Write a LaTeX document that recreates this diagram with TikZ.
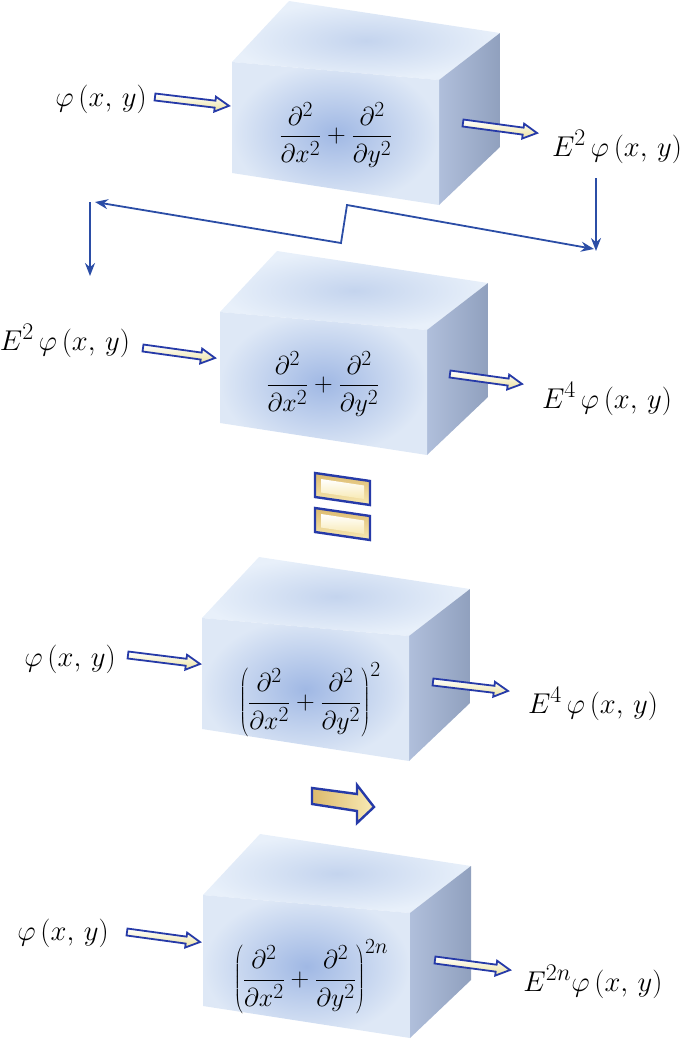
\documentclass[tikz,border=0pt]{standalone}
\usetikzlibrary{arrows.meta,calc}
\definecolor{cline}{RGB}{43,77,166}
\definecolor{aline}{RGB}{38,58,168}
\definecolor{frontin}{RGB}{160,184,228}
\definecolor{frontout}{RGB}{222,232,246}
\definecolor{topin}{RGB}{196,212,238}
\definecolor{topout}{RGB}{232,240,250}
\definecolor{sidea}{RGB}{176,191,219}
\definecolor{sideb}{RGB}{144,160,190}
\definecolor{ayel}{RGB}{236,226,160}
\definecolor{gold}{RGB}{220,186,110}
\definecolor{goldl}{RGB}{248,234,180}

\newcommand{\cube}[2]{%
 \begin{scope}[shift={(#1,#2)}]
  \shade[inner color=topin, outer color=topout] (0,0) -- (57,-61) -- (268,-29) -- (207,18) -- cycle;
  \shade[left color=sidea, right color=sideb] (207,18) -- (268,-29) -- (268,85) -- (207,143) -- cycle;
  \shade[inner color=frontin, outer color=frontout] (0,0) -- (207,18) -- (207,143) -- (0,111) -- cycle;
 \end{scope}}

\newcommand{\harrow}[4]{%
 \begin{scope}[shift={(#1,#2)}, rotate=-#3]
  \shade[top color=white, bottom color=ayel, draw=aline, line width=1.8pt, line join=miter]
   (0,-3.5) -- (#4-14,-3.5) -- (#4-14,-7.5) -- (#4,0) -- (#4-14,7.5) -- (#4-14,3.5) -- (0,3.5) -- cycle;
 \end{scope}}

\newcommand{\eqbar}[2]{%
 \begin{scope}[shift={(#1,#2)}]
  \shade[top color=gold, bottom color=goldl] (0,0) -- (55,8) -- (55,32) -- (0,24) -- cycle;
  \shade[top color=white, bottom color=goldl] (6,6) -- (49,12.5) -- (49,26) -- (6,19.5) -- cycle;
  \draw[aline, line width=2.4pt, line join=miter] (0,0) -- (55,8) -- (55,32) -- (0,24) -- cycle;
 \end{scope}}

\newcommand{\dnum}{\partial^{2}\rule[-5pt]{0pt}{5pt}}
\newcommand{\lapl}{\displaystyle\frac{\dnum}{\rule{0pt}{24pt}\partial x^{2}}+\frac{\dnum}{\rule{0pt}{24pt}\partial y^{2}}}
\newcommand{\phixy}{\varphi\left(x,\,y\right)}

\tikzset{
  lab/.style={inner sep=0pt, font=\Huge, scale=1.15},
  frm/.style={inner sep=0pt, font=\Huge, scale=1.04},
  conn/.style={draw=cline, line width=1.8pt},
  tip/.style={-{Stealth[length=13pt,width=10pt]}}
}

\begin{document}
\begin{tikzpicture}[x=1pt,y=-1pt]
\useasboundingbox (0,0) rectangle (685,1042);

% boxes
\cube{232}{62}
\cube{220}{312}
\cube{202}{618}
\cube{203}{895}

% formulas
\node[frm] (f1) at (336,135) {$\lapl$};
\node[frm] (f2) at (323,384) {$\lapl$};
\node[frm] (f3) at (310,700) {$\displaystyle\left(\lapl\right)^{2}$};
\node[frm] (f4) at (311,977) {$\displaystyle\left(\lapl\right)^{2n}$};

% labels
\node[lab] (in1) at (101,99) {$\phixy$};
\node[lab] (out1) at (617,147) {$E^{2}\,\phixy$};
\node[lab] (in2) at (65,341) {$E^{2}\,\phixy$};
\node[lab] (out2) at (607,399) {$E^{4}\,\phixy$};
\node[lab] (in3) at (70,659) {$\phixy$};
\node[lab] (out3) at (593,704) {$E^{4}\,\phixy$};
\node[lab] (in4) at (63,933) {$\phixy$};
\node[lab] (out4) at (593,982) {$E^{2n}\phixy$};

% hollow arrows
\harrow{155}{97}{6.8}{74.5}
\harrow{463}{123}{7.7}{74.7}
\harrow{143}{348}{7.9}{72.7}
\harrow{450}{374}{7.9}{72.7}
\harrow{128}{655}{7.1}{72.6}
\harrow{433}{682}{6.8}{75.5}
\harrow{127}{932}{7.8}{73.7}
\harrow{435}{960}{7.6}{75.7}

% equals sign
\eqbar{315}{473}
\eqbar{315}{508}

% fat arrow
\shade[left color=gold, middle color=white, right color=goldl, draw=aline, line width=2.4pt, line join=miter]
  (312,788) -- (357,794) -- (357,785) -- (374,807) -- (357,823) -- (357,811) -- (312,804) -- cycle;

% zigzag connector
\coordinate (zl) at (95,202);
\coordinate (z1) at (341,243);
\coordinate (z2) at (347,205);
\coordinate (zr) at (594,249);
\coordinate (rv1) at (596,178);
\coordinate (rv2) at (596,251);
\coordinate (lv1) at (90,202);
\coordinate (lv2) at (90,276);
\draw[conn, {Stealth[length=13pt,width=10pt]}-{Stealth[length=13pt,width=10pt]}] (zl) -- (z1) -- (z2) -- (zr);
\draw[conn, tip] (rv1) -- (rv2);
\draw[conn, tip] (lv1) -- (lv2);
\end{tikzpicture}
\end{document}
